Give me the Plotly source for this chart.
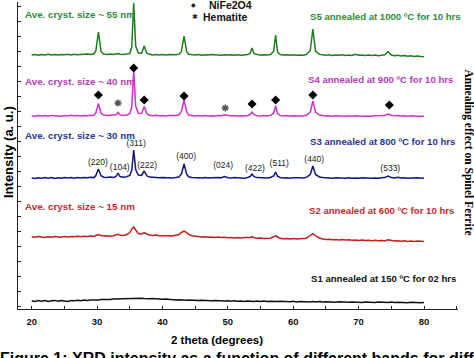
import plotly.graph_objects as go

# 2-theta sampling (degrees)
theta = [20, 20.5, 21, 21.5, 22, 22.5, 23, 23.5, 24, 24.5, 25, 25.5, 26, 26.5, 27, 27.5, 28, 28.5, 29, 29.5,
         29.8, 30.2, 30.6,
         31, 31.5, 32, 32.5,
         32.9, 33.2, 33.5,
         34, 34.5,
         35.0, 35.3, 35.6, 35.9, 36.3,
         36.8, 37.2, 37.6,
         38, 38.5, 39, 39.5, 40, 40.5, 41, 41.5, 42, 42.5,
         42.9, 43.3, 43.7,
         44, 44.5, 45, 45.5, 46, 46.5, 47, 47.5, 48, 48.5, 49,
         49.5,
         50, 50.5, 51, 51.5, 52, 52.5, 53,
         53.4, 53.7, 54.0,
         54.5, 55, 55.5, 56, 56.5,
         57.0, 57.3, 57.6,
         58, 58.5, 59, 59.5, 60, 60.5, 61, 61.5, 62,
         62.6, 63.0, 63.4,
         64, 64.5, 65, 65.5, 66, 66.5, 67, 67.5, 68, 68.5, 69, 69.5, 70, 70.5, 71, 71.5, 72, 72.5, 73, 73.5, 74,
         74.5,
         75, 75.5, 76, 76.5, 77, 77.5, 78, 78.5, 79, 79.5, 80]

# Intensities (a.u.) of each sample
s1 = [0.3, -0.4, 0.5, -0.2, 0.4, -0.5, 0.2, 0.6, -0.3, 0.4, 0.1, -0.4, 0.5, 0.2, 0.7, 0.3, 0.9, 0.6, 1.1, 0.8,
      1.2, 1.0, 1.4,
      1.3, 1.7, 1.5, 1.9,
      2.0, 1.8, 2.3,
      2.1, 2.6,
      2.4, 2.8, 2.5, 2.9, 2.6,
      2.8, 2.4, 2.7,
      2.3, 2.5, 2.0, 2.2, 1.7, 1.9, 1.4, 1.6, 1.1, 1.3,
      0.9, 1.2, 0.8,
      1.0, 0.6, 0.9, 0.4, 0.7, 0.3, 0.6, 0.2, 0.5, 0.1, 0.4,
      0.0,
      0.3, -0.2, 0.2, -0.3, 0.1, -0.4, 0.0,
      -0.3, 0.1, -0.4,
      0.0, -0.5, -0.1, -0.6, -0.2,
      -0.5, -0.1, -0.6,
      -0.3, -0.7, -0.4, -0.8, -0.3, -0.9, -0.5, -0.8, -0.4,
      -0.9, -0.5, -1.0,
      -0.6, -1.1, -0.7, -1.0, -0.6, -1.2, -0.8, -1.1, -0.7, -1.3, -0.9, -1.2, -0.8, -1.4, -1.0, -1.3, -0.9, -1.5, -1.1, -1.4, -1.0,
      -1.5,
      -1.1, -1.6, -1.2, -1.5, -1.1, -1.7, -1.3, -1.6, -1.2, -1.8, -1.4]

s2 = [0.2, -0.3, 0.4, 0.0, -0.4, 0.3, -0.2, 0.5, 0.1, -0.3, 0.4, 0.0, 0.6, 0.2, 0.7, 0.3, 0.8, 0.5, 1.0, 0.7,
      1.5, 2.4, 1.4,
      0.9, 1.3, 0.8, 1.2,
      1.8, 2.8, 1.7,
      1.5, 2.3,
      4.5, 8.0, 10.0, 7.0, 3.5,
      3.0, 4.3, 3.0,
      2.0, 1.6, 1.9, 1.3, 1.5, 1.0, 1.3, 0.9, 1.4, 2.5,
      4.5, 6.0, 4.5,
      2.6, 1.3, 0.7, 0.4, 0.0, 0.3, -0.2, 0.1, -0.4, -0.1, -0.6,
      -0.2,
      -0.7, -0.4, -0.9, -0.5, -1.0, -0.6, -0.9,
      -0.6, 0.3, -0.7,
      -1.3, -0.9, -1.4, -1.0, -1.2,
      0.2, 1.3, 0.0,
      -1.3, -1.8, -1.4, -2.0, -1.6, -2.1, -1.7, -1.9, -1.2,
      1.5, 3.3, 1.4,
      -1.0, -2.0, -2.6, -2.2, -2.8, -2.4, -3.0, -2.6, -3.1, -2.7, -3.3, -2.9, -3.4, -3.0, -3.6, -3.2, -3.7, -3.3, -3.8, -3.4, -3.9,
      -2.8,
      -3.6, -4.1, -3.7, -4.2, -3.8, -4.4, -4.0, -4.5, -4.1, -4.6, -4.4]

s3 = [0.0, -0.5, 0.3, -0.3, 0.5, -0.2, 0.4, -0.4, 0.2, -0.3, 0.5, 0.0, 0.4, -0.2, 0.6, 0.1, 0.5, 0.2, 0.7, 0.4,
      2.5, 9.0, 2.3,
      0.8, 0.4, 0.9, 0.5,
      1.6, 5.0, 1.5,
      0.8, 1.2,
      2.5, 8.0, 28.0, 8.5, 3.0,
      2.5, 7.0, 2.2,
      0.9, 0.5, 0.8, 0.3, 0.6, 0.2, 0.5, 0.1, 0.4, 0.9,
      4.0, 14.0, 3.8,
      1.2, 0.6, 0.2, 0.5, 0.0, 0.4, -0.1, 0.3, 0.0, 0.4, 0.2,
      1.5,
      0.3, -0.1, 0.4, 0.0, 0.3, -0.2, 0.5,
      1.5, 4.0, 1.4,
      0.4, 0.0, 0.3, -0.1, 0.5,
      2.0, 6.0, 1.8,
      0.5, 0.0, 0.3, -0.2, 0.2, -0.1, 0.3, 0.1, 0.6,
      3.5, 12.0, 3.6,
      1.0, 0.4, 0.0, 0.3, -0.2, 0.2, -0.1, 0.3, -0.2, 0.2, -0.3, 0.1, -0.2, 0.3, -0.1, 0.2, -0.3, 0.1, -0.2, 0.3, 0.4,
      2.0,
      0.6, 0.1, 0.8, 0.0, 0.3, -0.3, 0.1, -0.2, 0.2, -0.3, 0.0]

s4 = [0.3, -0.2, 0.5, 0.0, 0.4, -0.3, 0.6, 0.1, 0.3, -0.2, 0.5, 0.1, 0.7, 0.2, 0.5, 0.0, 0.6, 0.3, 0.8, 0.5,
      3.0, 12.5, 2.8,
      0.9, 0.5, 0.8, 0.4,
      1.2, 3.5, 1.1,
      0.6, 1.0,
      2.2, 9.0, 45.0, 10.0, 2.8,
      2.6, 9.5, 2.4,
      0.8, 0.3, 0.7, 0.2, 0.6, 0.1, 0.5, 0.2, 0.6, 1.0,
      4.5, 16.0, 4.2,
      1.0, 0.4, 0.1, 0.5, 0.0, 0.4, -0.1, 0.3, 0.0, 0.5, 0.2,
      1.2,
      0.3, 0.0, 0.5, -0.1, 0.3, 0.0, 0.6,
      1.5, 4.0, 1.3,
      0.3, -0.1, 0.4, 0.0, 0.6,
      2.8, 10.0, 2.6,
      0.6, 0.1, 0.4, -0.1, 0.3, 0.0, 0.4, 0.1, 0.7,
      4.0, 15.0, 4.0,
      0.9, 0.3, -0.1, 0.3, -0.2, 0.2, 0.0, 0.4, -0.2, 0.2, -0.3, 0.3, -0.1, 0.2, -0.3, 0.1, -0.2, 0.3, 0.0, 0.4, 0.6,
      2.0,
      0.7, 0.2, 0.5, -0.1, 0.3, -0.3, 0.2, -0.2, 0.1, -0.4, -0.1]

s5 = [0.0, 0.6, -0.2, 0.5, 0.1, 0.7, 0.0, 0.5, -0.1, 0.6, 0.2, 0.7, 0.1, 0.8, 0.3, 0.6, 0.2, 0.9, 0.5, 1.2,
      4.0, 23.0, 3.5,
      1.0, 0.5, 0.9, 0.4,
      0.8, 1.5, 0.7,
      0.4, 0.9,
      1.5, 8.0, 52.0, 9.0, 2.0,
      1.8, 9.0, 1.6,
      0.6, 0.1, 0.5, -0.1, 0.4, 0.0, 0.5, 0.1, 0.3, 0.8,
      3.5, 19.0, 3.2,
      0.8, 0.2, -0.1, 0.4, -0.2, 0.3, -0.1, 0.4, 0.0, 0.3, -0.2,
      0.3,
      -0.1, 0.3, -0.2, 0.2, -0.3, 0.1, 0.4,
      1.5, 7.0, 1.3,
      0.2, -0.2, 0.3, -0.1, 0.5,
      3.5, 20.0, 3.0,
      0.4, -0.1, 0.3, -0.2, 0.2, -0.3, 0.1, -0.2, 0.5,
      4.5, 26.0, 4.0,
      0.6, 0.0, -0.3, 0.2, -0.4, 0.1, -0.3, 0.2, -0.5, 0.0, -0.4, 0.6, -0.3, 0.1, -0.6, -0.1, -0.5, 0.0, -0.7, -0.2, 0.2,
      3.5,
      0.0, -0.8, -0.3, -1.0, -0.5, -1.2, -0.7, -1.4, -0.9, -1.6, -1.8]

series = [s1, s2, s3, s4, s5]
offsets = [8, 72, 131, 193, 254]
sample_names = ["S1", "S2", "S3", "S4", "S5"]
temperatures = ["150", "600", "800", "900", "1000"]
durations = ["02", "10", "10", "10", "10"]
cryst_sizes = [None, 15, 30, 40, 55]

# Miller indices (labels for S3)
hkl_labels = ["(220)", "(104)", "(311)", "(222)", "(400)", "(024)", "(422)", "(511)", "(440)", "(533)"]
hkl_theta = [30.12, 33.47, 35.97, 37.65, 43.62, 49.28, 54.13, 57.85, 63.21, 74.84]
hkl_y = [146, 141, 165, 143.5, 152, 143.5, 140, 145.3, 149.3, 140]

# Phase markers (over S4)
nife_theta = [30.2, 35.6, 37.2, 43.3, 53.7, 57.3, 63.0, 74.7]
nife_y = [214, 241, 209, 213, 205, 209, 214, 204]
hem_theta = [33.2, 49.6]
hem_y = [206, 201]

for s in series:
    assert len(s) == len(theta), len(s)

line_colors = ["#111111", "#c41e1e", "#14147a", "#cc33cc", "#1a7f1a"]
text_colors = ["#111111", "#c8282e", "#2a3596", "#b53bb5", "#2e8b3a"]

fig = go.Figure()
for s, off, col in zip(series, offsets, line_colors):
    fig.add_trace(go.Scatter(x=theta, y=[v + off for v in s], mode="lines",
                             line=dict(color=col, width=1.5), hoverinfo="skip"))

fig.add_trace(go.Scatter(x=hkl_theta, y=hkl_y, mode="text", text=hkl_labels,
                         textfont=dict(size=8.5, color="#222", family="Liberation Sans, Arial, sans-serif")))
fig.add_trace(go.Scatter(x=nife_theta, y=nife_y, mode="markers",
                         marker=dict(symbol="diamond", size=7, color="#000")))
fig.add_trace(go.Scatter(x=hem_theta, y=hem_y, mode="markers",
                         marker=dict(symbol="asterisk-open", size=6, color="#555",
                                     line=dict(color="#555", width=1.5))))

PL, PR, PT, PB = 18, 458, 2, 309
def px(x):
    return (x - PL) / (PR - PL)
def py(y):
    return (PB - y) / (PB - PT)

ann = []
ave_y = [None, 206, 135.7, 81, 14]
lab_y = [278, 210, 141, 79.7, 16]
lab_x = [309, 306.7, 307.7, 305.7, 308.3]
for i in range(5):
    if cryst_sizes[i] is not None:
        ann.append(dict(x=px(22.5), y=py(ave_y[i]), xref="paper", yref="paper", xanchor="left", yanchor="middle",
                        text=f"<b>Ave. cryst. size ~ {cryst_sizes[i]} nm</b>", showarrow=False,
                        font=dict(size=9.8, color=text_colors[i])))
    ann.append(dict(x=px(lab_x[i]), y=py(lab_y[i]), xref="paper", yref="paper", xanchor="left", yanchor="middle",
                    text=f"<b>{sample_names[i]} annealed at {temperatures[i]} ºC for {durations[i]} hrs</b>",
                    showarrow=False, font=dict(size=9.6, color=text_colors[i])))

# legend-like labels
ann.append(dict(x=px(193), y=py(4.5), xref="paper", yref="paper", xanchor="center", yanchor="middle",
                text="◆", showarrow=False, font=dict(size=6, color="#000", family="DejaVu Sans")))
ann.append(dict(x=px(207), y=py(4.5), xref="paper", yref="paper", xanchor="left", yanchor="middle",
                text="<b>NiFe2O4</b>", showarrow=False, font=dict(size=10.5, color="#111")))
ann.append(dict(x=px(195), y=py(17), xref="paper", yref="paper", xanchor="center", yanchor="middle",
                text="✱", showarrow=False, font=dict(size=7, color="#222", family="DejaVu Sans")))
ann.append(dict(x=px(200.5), y=py(17), xref="paper", yref="paper", xanchor="left", yanchor="middle",
                text="<b>Hematite</b>", showarrow=False, font=dict(size=10.5, color="#111")))

# axis titles and side title
ann.append(dict(x=px(8), y=py(152), xref="paper", yref="paper", xanchor="center", yanchor="middle",
                text="<b>Intensity (a. u.)</b>", textangle=-90, showarrow=False,
                font=dict(size=13, color="#000")))
ann.append(dict(x=px(217), y=py(340), xref="paper", yref="paper", xanchor="center", yanchor="middle",
                text="<b>2 theta (degrees)</b>", showarrow=False, font=dict(size=11.5, color="#000")))
ann.append(dict(x=px(468), y=py(152.5), xref="paper", yref="paper", xanchor="center", yanchor="middle",
                text="<b>Annealing effect on Spinel Ferrite</b>", textangle=90, showarrow=False,
                font=dict(size=11.5, color="#000", family="Liberation Serif, Times New Roman, serif")))
ann.append(dict(x=px(-2), y=py(348), xref="paper", yref="paper", xanchor="left", yanchor="top",
                text="<b>Figure 1: XRD intensity as a function of different bands for different</b>",
                showarrow=False, font=dict(size=16, color="#000")))

fig.update_layout(
    width=474, height=358,
    margin=dict(l=PL, r=474 - PR, t=PT, b=358 - PB, pad=0),
    plot_bgcolor="white", paper_bgcolor="white", showlegend=False,
    font=dict(family="Liberation Sans, Arial, sans-serif"),
    annotations=ann,
    xaxis=dict(range=[17.9, 85.2], showline=True, linecolor="#222", linewidth=1,
               ticks="inside", ticklen=3, tickcolor="#222",
               tickvals=[20, 30, 40, 50, 60, 70, 80], ticktext=["20", "30", "40", "50", "60", "70", "80"],
               tickfont=dict(size=9.5, color="#111", weight="bold"),
               minor=dict(dtick=5, tick0=20, ticks="inside", ticklen=3, tickcolor="#222"),
               showgrid=False, zeroline=False, ticklabelstandoff=4),
    yaxis=dict(range=[0, 307], showline=True, linecolor="#222", linewidth=1,
               ticks="inside", ticklen=3, tickcolor="#222", tick0=2.3, dtick=15,
               showticklabels=False, showgrid=False, zeroline=False),
)

fig.write_html("out.html", config={"displayModeBar": False},
               post_script="document.body.style.margin='0px';document.body.style.overflow='hidden';")
